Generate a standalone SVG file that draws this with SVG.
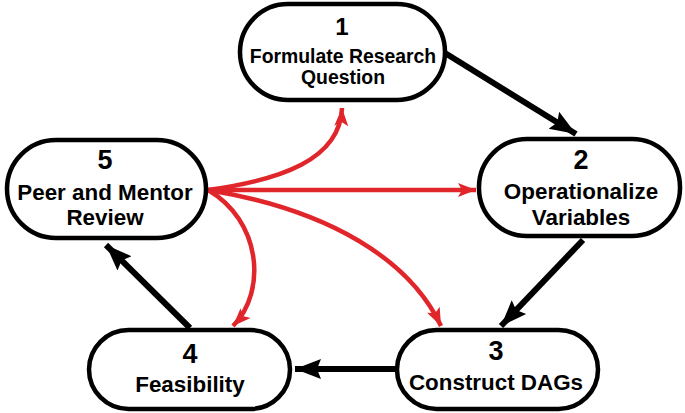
<svg xmlns="http://www.w3.org/2000/svg" width="685" height="413" viewBox="0 0 685 413">
<style>
.node{fill:#fff;stroke:#000;stroke-width:4.5}
.num{font-family:"Liberation Sans",Arial,sans-serif;font-weight:bold;font-size:27px;text-anchor:middle;fill:#000}
.lbl{font-family:"Liberation Sans",Arial,sans-serif;font-weight:bold;font-size:22.4px;text-anchor:middle;fill:#000}
.sm .num{font-size:24px}
.sm .lbl{font-size:19.4px}
.blk{fill:none;stroke:#000;stroke-width:6}
.red{fill:none;stroke:#e0262b;stroke-width:4.5}
</style>
<defs>
<marker id="ab" markerUnits="userSpaceOnUse" markerWidth="30" markerHeight="24" refX="26" refY="10" orient="auto" viewBox="0 0 30 20">
<path d="M0,0 L26,10 L0,20 L4,10 Z" fill="#000"/>
</marker>
<marker id="ar" markerUnits="userSpaceOnUse" markerWidth="20" markerHeight="16" refX="18" refY="7" orient="auto" viewBox="0 0 20 14">
<path d="M0,0 L18,7 L0,14 L4,7 Z" fill="#e0262b"/>
</marker>
</defs>
<g id="connectors">
<path class="blk" d="M445,53 L576,134" marker-end="url(#ab)"/>
<path class="blk" d="M583,240 L501,326" marker-end="url(#ab)"/>
<path class="blk" d="M397,369 L295,369" marker-end="url(#ab)"/>
<path class="blk" d="M190,328 L106,245" marker-end="url(#ab)"/>
<path class="red" d="M208,190 C280,180 340,160 342,108" marker-end="url(#ar)"/>
<path class="red" d="M208,190 L476,190" marker-end="url(#ar)"/>
<path class="red" d="M208,190 C330,210 410,260 441,326" marker-end="url(#ar)"/>
<path class="red" d="M208,190 C260,220 268,290 233,326" marker-end="url(#ar)"/>
</g>
<g id="node1" class="sm">
<rect class="node" x="240" y="4" width="205" height="96" rx="48"/>
<text class="num" x="342" y="35">1</text>
<text class="lbl" x="343" y="63">Formulate Research</text>
<text class="lbl" x="343" y="84">Question</text>
</g>
<g id="node2">
<rect class="node" x="479" y="139" width="201" height="97" rx="48"/>
<text class="num" x="581" y="169">2</text>
<text class="lbl" x="581" y="199">Operationalize</text>
<text class="lbl" x="581" y="225">Variables</text>
</g>
<g id="node3">
<rect class="node" x="397" y="330" width="201" height="79" rx="39.5"/>
<text class="num" x="496" y="360">3</text>
<text class="lbl" x="496" y="390">Construct DAGs</text>
</g>
<g id="node4">
<rect class="node" x="89" y="330" width="201" height="79" rx="39.5"/>
<text class="num" x="190" y="363">4</text>
<text class="lbl" x="190" y="392">Feasibility</text>
</g>
<g id="node5">
<rect class="node" x="7" y="140" width="199" height="98" rx="49"/>
<text class="num" x="105" y="169">5</text>
<text class="lbl" x="105" y="200">Peer and Mentor</text>
<text class="lbl" x="105" y="225">Review</text>
</g>
</svg>
